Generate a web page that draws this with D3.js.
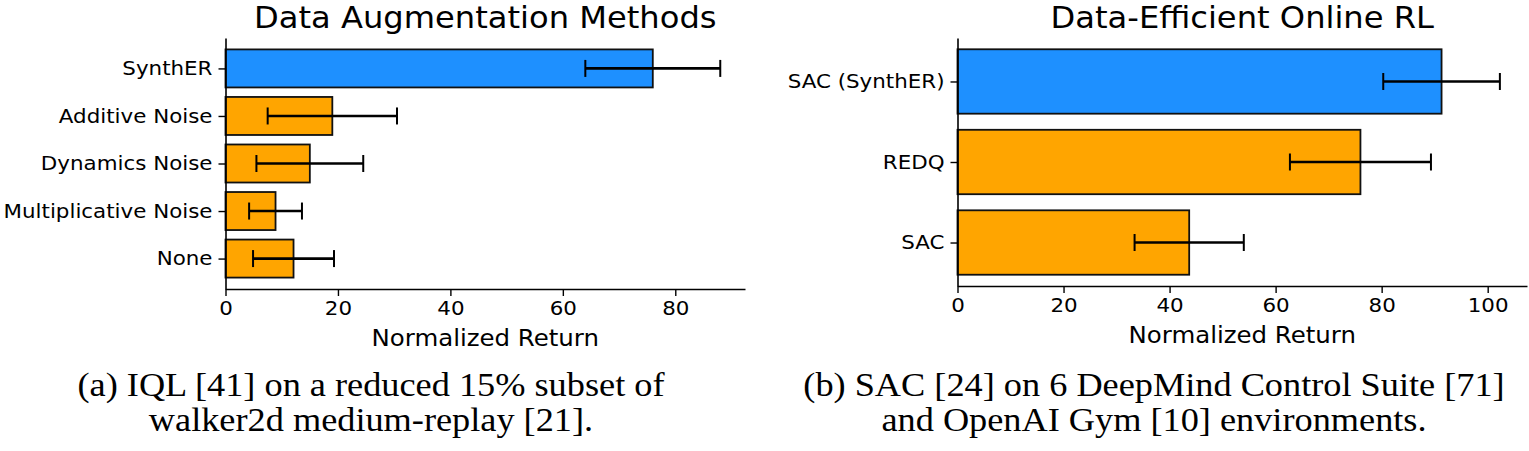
<!DOCTYPE html>
<html>
<head>
<meta charset="utf-8">
<script src="https://cdn.jsdelivr.net/npm/d3@7"></script>
<style>
  body { margin: 0; background: #fff; }
  svg { display: block; }
  .tick text { font-family: "DejaVu Sans", sans-serif; }
</style>
</head>
<body>
<svg id="chart" width="1529" height="451"></svg>
<script>
// left panel: data augmentation methods
const augCategories = ["SynthER", "Additive Noise", "Dynamics Noise", "Multiplicative Noise", "None"];
const augMeans = [76, 19, 15, 8.9, 12.1];
const augErrors = [12, 11.5, 9.5, 4.7, 7.2];

// right panel: data-efficient online RL
const rlCategories = ["SAC (SynthER)", "REDQ", "SAC"];
const rlMeans = [91.3, 76, 43.7];
const rlErrors = [11, 13.3, 10.3];

const augTicks = [0, 20, 40, 60, 80];
const rlTicks = [0, 20, 40, 60, 80, 100];

const blue = "#1e90ff";
const orange = "#ffa500";

const svg = d3.select("#chart");

// the source figure is a bit wider than tall, so glyphs get stretched sideways
function stretch(sel, sx) {
  sel.each(function () {
    const t = d3.select(this);
    const x = +t.attr("x") || 0;
    const y = +t.attr("y") || 0;
    t.attr("transform", `translate(${x},${y}) scale(${sx},1)`)
      .attr("x", 0).attr("y", 0);
  });
}

function drawPanel(opt) {
  const g = svg.append("g");
  const xMax = d3.max(opt.means.map((m, i) => m + opt.errors[i])) * 1.05;
  const x = d3.scaleLinear().domain([0, xMax]).range([opt.left, opt.right]);

  // each bar takes 0.8 of a slot, 5% margins like matplotlib
  const n = opt.cats.length;
  const y = d3.scaleLinear()
    .domain([-0.4 - 0.05 * (n - 0.2), n - 0.6 + 0.05 * (n - 0.2)])
    .range([opt.top, opt.bottom]);
  const barH = y(0.4) - y(-0.4);

  g.selectAll("rect.bar")
    .data(opt.cats)
    .enter()
    .append("rect")
    .attr("class", "bar")
    .attr("x", x(0))
    .attr("y", (d, i) => y(i) - barH / 2)
    .attr("width", (d, i) => x(opt.means[i]) - x(0))
    .attr("height", barH)
    .attr("fill", (d, i) => i === 0 ? blue : orange)
    .attr("stroke", "#111")
    .attr("stroke-width", 1.8);

  // error bars
  const eb = g.selectAll("g.err")
    .data(opt.cats)
    .enter()
    .append("g")
    .attr("class", "err");
  eb.append("line")
    .attr("x1", (d, i) => x(opt.means[i] - opt.errors[i]))
    .attr("x2", (d, i) => x(opt.means[i] + opt.errors[i]))
    .attr("y1", (d, i) => y(i))
    .attr("y2", (d, i) => y(i))
    .attr("stroke", "#000")
    .attr("stroke-width", 2.6);
  [-1, 1].forEach(s => {
    eb.append("line")
      .attr("x1", (d, i) => x(opt.means[i] + s * opt.errors[i]))
      .attr("x2", (d, i) => x(opt.means[i] + s * opt.errors[i]))
      .attr("y1", (d, i) => y(i) - 8.5)
      .attr("y2", (d, i) => y(i) + 8.5)
      .attr("stroke", "#000")
      .attr("stroke-width", 2);
  });

  // axes
  const xAxis = g.append("g")
    .attr("transform", `translate(0,${opt.bottom})`)
    .call(d3.axisBottom(x).tickValues(opt.ticks).tickFormat(d3.format("d"))
      .tickSizeInner(7).tickSizeOuter(0).tickPadding(5));
  xAxis.selectAll("text").attr("font-size", 20).attr("fill", "#000").call(stretch, 1.07);

  const yAxis = g.append("g")
    .attr("transform", `translate(${opt.left},0)`)
    .call(d3.axisLeft(y).tickValues(d3.range(n)).tickFormat(i => opt.cats[i])
      .tickSizeInner(7).tickSizeOuter(0).tickPadding(6));
  yAxis.selectAll("text").attr("font-size", 20).attr("fill", "#000").call(stretch, 1.07);

  [xAxis, yAxis].forEach(a => {
    a.select(".domain").attr("stroke", "#000").attr("stroke-width", 1.6);
    a.selectAll(".tick line").attr("stroke", "#000").attr("stroke-width", 1.4);
  });

  g.append("text")
    .attr("x", (opt.left + opt.right) / 2)
    .attr("y", opt.bottom + 57)
    .attr("text-anchor", "middle")
    .attr("font-family", "DejaVu Sans, sans-serif")
    .attr("font-size", 23.5)
    .text("Normalized Return")
    .call(stretch, 1.04);

  g.append("text")
    .attr("x", (opt.left + opt.right) / 2)
    .attr("y", 27.5)
    .attr("text-anchor", "middle")
    .attr("font-family", "DejaVu Sans, sans-serif")
    .attr("font-size", 29.5)
    .text(opt.title)
    .call(stretch, 1.09);

  opt.caption.forEach((line, k) => {
    g.append("text")
      .attr("x", opt.capX)
      .attr("y", 396 + k * 35)
      .attr("text-anchor", "middle")
      .attr("font-family", "Liberation Serif, serif")
      .attr("font-size", 33)
      .text(line)
      .call(stretch, 1.1);
  });
}

drawPanel({
  cats: augCategories, means: augMeans, errors: augErrors, ticks: augTicks,
  left: 225.5, right: 745, top: 38, bottom: 289,
  title: "Data Augmentation Methods",
  caption: ["(a) IQL [41] on a reduced 15% subset of", "walker2d medium-replay [21]."],
  capX: 371
});

drawPanel({
  cats: rlCategories, means: rlMeans, errors: rlErrors, ticks: rlTicks,
  left: 957.5, right: 1527, top: 38, bottom: 286,
  title: "Data-Efficient Online RL",
  caption: ["(b) SAC [24] on 6 DeepMind Control Suite [71]", "and OpenAI Gym [10] environments."],
  capX: 1154
});
</script>
</body>
</html>
